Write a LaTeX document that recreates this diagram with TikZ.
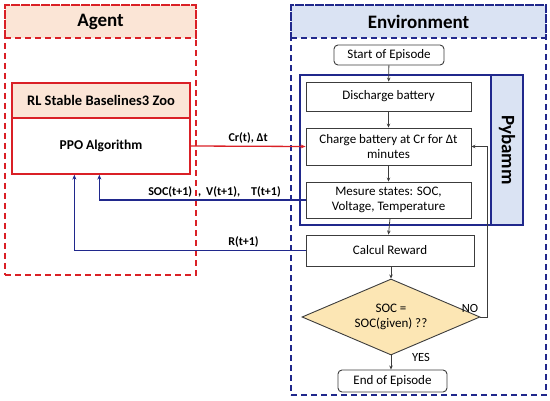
\documentclass[tikz,border=0pt]{standalone}
\usepackage{fontspec}
\setmainfont{Carlito}
\usetikzlibrary{arrows.meta,shapes.geometric,calc}
\definecolor{agred}{RGB}{218,32,38}
\definecolor{envblue}{RGB}{32,40,140}
\definecolor{peach}{RGB}{251,229,214}
\definecolor{lblue}{RGB}{218,227,243}
\definecolor{tan}{RGB}{252,230,180}
\definecolor{boxgray}{RGB}{60,60,60}
\begin{document}
\begin{tikzpicture}[x=1pt,y=-1pt,
  agdash/.style={draw=agred,line width=1.5pt,dash pattern=on 6pt off 4pt},
  envdash/.style={draw=envblue,line width=1.5pt,dash pattern=on 6pt off 4pt},
  flowbox/.style={draw=boxgray,line width=0.9pt,rectangle,inner sep=0pt,align=center,font=\fontsize{13}{15}\selectfont},
  term/.style={flowbox,rounded corners=4pt},
  flowarrow/.style={draw=boxgray,line width=0.8pt,-{Stealth[length=4pt,width=3.5pt]}},
  redarrow/.style={draw=agred,line width=1.3pt,-{Stealth[length=5pt,width=4pt]}},
  bluearrow/.style={draw=envblue,line width=1.3pt,-{Stealth[length=5pt,width=4pt]}},
  lbl/.style={font=\fontsize{12}{14}\selectfont\bfseries,inner sep=1pt},
  headtxt/.style={font=\fontsize{19}{22}\selectfont\bfseries}
]
\useasboundingbox (0,0) rectangle (550,401);

% Agent
\node[agdash,fill=peach,rectangle,inner sep=0pt,minimum width=191pt,minimum height=33pt,headtxt] (agenthead) at (100.5,21.5) {Agent};
\node[agdash,rectangle,inner sep=0pt,minimum width=191pt,minimum height=270pt] (agent) at (100.5,140) {};

\node[draw=agred,line width=1.3pt,fill=peach,rectangle,inner sep=0pt,minimum width=178pt,minimum height=35pt,font=\fontsize{14.5}{17}\selectfont\bfseries] (rl) at (101,100.5) {RL Stable Baselines3 Zoo};
\node[draw=agred,line width=1.3pt,fill=white,rectangle,inner sep=0pt,minimum width=178pt,minimum height=56pt,font=\fontsize{13.5}{16}\selectfont\bfseries] (ppo) at (101,146) {PPO Algorithm};

% Environment
\node[envdash,fill=lblue,rectangle,inner sep=0pt,minimum width=255pt,minimum height=33pt,headtxt] (envhead) at (418.5,21.5) {Environment};
\node[envdash,rectangle,inner sep=0pt,minimum width=255pt,minimum height=390pt] (env) at (418.5,200) {};

\node[draw=envblue,line width=1.3pt,rectangle,inner sep=0pt,minimum width=223pt,minimum height=150pt] (pyb) at (411.5,150) {};
\node[draw=envblue,line width=1.3pt,fill=lblue,rectangle,inner sep=0pt,minimum width=32pt,minimum height=150pt] (pybside) at (507,150) {};
\node[rotate=-90,headtxt] (pybtxt) at (507,150) {Pybamm};

\node[term,minimum width=110pt,minimum height=20pt] (start) at (389,55) {Start of Episode};
\node[flowbox,fill=white,minimum width=165pt,minimum height=29pt] (discharge) at (388.5,96.5) {Discharge battery};
\node[flowbox,fill=white,minimum width=165pt,minimum height=37pt] (charge) at (388.5,146.5) {Charge battery at Cr for Δt\\minutes};
\node[flowbox,fill=white,minimum width=165pt,minimum height=36pt] (measure) at (388.5,200) {Mesure states: SOC,\\Voltage, Temperature};
\node[flowbox,fill=white,minimum width=168pt,minimum height=31pt] (reward) at (390,250.5) {Calcul Reward};
\node[flowbox,fill=tan,diamond,aspect=2.34,minimum width=178pt,minimum height=76pt] (decision) at (391,317) {SOC =\\SOC(given) ??};
\node[term,minimum width=109pt,minimum height=22pt] (end) at (392.5,381) {End of Episode};

% flow arrows
\draw[flowarrow] (start) -- (discharge);
\draw[flowarrow] (discharge) -- (charge);
\draw[flowarrow] (charge) -- (measure);
\draw[flowarrow] (measure.south -| reward.north) -- (reward.north -| measure.south);
\draw[flowarrow] (reward.south -| decision.north) -- (decision.north);
\draw[flowarrow] (decision.south) -- (end.north -| decision.south);
\coordinate (noturn) at ($(decision.east)+(7,0)$);
\draw[flowarrow] (decision.east) -- (noturn) |- (charge.east);
\node[font=\fontsize{12.5}{14}\selectfont,anchor=south] (nolbl) at (470,316) {NO};
\node[font=\fontsize{12.5}{14}\selectfont] (yeslbl) at (421,357) {YES};

% agent-environment connectors
\draw[redarrow] (ppo.east) -- (charge.west) node[lbl,pos=0.5,above=1pt] (crlbl) {Cr(t), Δt};
\coordinate (ppoin1) at ($(ppo.south west)+(88,0)$);
\coordinate (ppoin2) at ($(ppo.south west)+(63,0)$);
\draw[bluearrow] (measure.west) -| (ppoin1);
\draw[bluearrow] (reward.west) -| (ppoin2);
\node[lbl] (statelbl) at (214.5,192) {SOC(t+1)\hspace{6pt},\hspace{5pt}V(t+1),\hspace{11pt}T(t+1)};
\node[lbl] (rlbl) at (243.5,242) {R(t+1)};
\end{tikzpicture}
\end{document}
